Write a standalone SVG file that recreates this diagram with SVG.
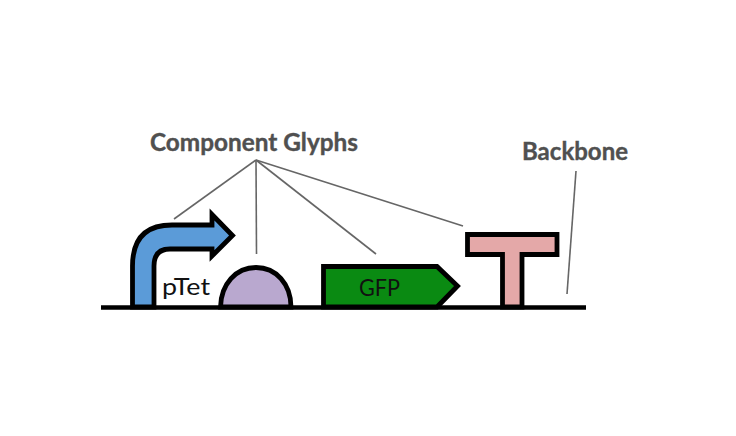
<svg xmlns="http://www.w3.org/2000/svg" width="736" height="436" viewBox="0 0 736 436">
<style>
.leader{fill:none;stroke:#666;stroke-width:1.6}
.glyph{stroke:#000;stroke-width:4.800;stroke-linejoin:miter}
.head{font-family:Lato,"Open Sans","Liberation Sans",sans-serif;font-weight:700;fill:#505050;stroke:#505050;stroke-width:0.4;font-size:25px}
.lab{font-family:Lato,"Open Sans","Liberation Sans",sans-serif;fill:#111;font-size:23px}
</style>
<rect width="736" height="436" fill="#fff"/>
<g id="connectors">
<line class="leader" x1="256" y1="160" x2="174" y2="219"/>
<line class="leader" x1="256" y1="160" x2="256.500" y2="254"/>
<line class="leader" x1="256" y1="160" x2="376" y2="254"/>
<line class="leader" x1="256" y1="160" x2="463" y2="226"/>
<line class="leader" x1="576" y1="171" x2="567" y2="294"/>
</g>
<g id="promoter"><path class="glyph" fill="#5b9bd8" d="M132.500 307V266Q132.500 225 172 225H212V214.500L232.500 235.500L212 256V249H170Q154 249 154 266V307Z"/></g>
<g id="rbs"><path class="glyph" fill="#b9a8cf" d="M220.500 307C221 284 236 267.500 256 267.500C276 267.500 291 284 291 307Z"/></g>
<g id="cds"><path class="glyph" fill="#0a8a12" d="M323.500 307V266.500H437L457.500 286L437 307Z"/></g>
<g id="terminator"><path class="glyph" fill="#e4a8a8" d="M502.500 307V254.500H467.500V234.500H557V254.500H522V307Z"/></g>
<g id="backbone"><line x1="101" y1="307.500" x2="586" y2="307.500" stroke="#000" stroke-width="4.500"/></g>
<g id="labels">
<text class="head" x="150" y="150.500" textLength="208" lengthAdjust="spacingAndGlyphs">Component Glyphs</text>
<text class="head" x="522" y="159.500" textLength="106" lengthAdjust="spacingAndGlyphs">Backbone</text>
<text class="lab" x="162" y="295" textLength="48" lengthAdjust="spacingAndGlyphs">pTet</text>
<text class="lab" x="359" y="296" textLength="41" lengthAdjust="spacingAndGlyphs">GFP</text>
</g>
</svg>
